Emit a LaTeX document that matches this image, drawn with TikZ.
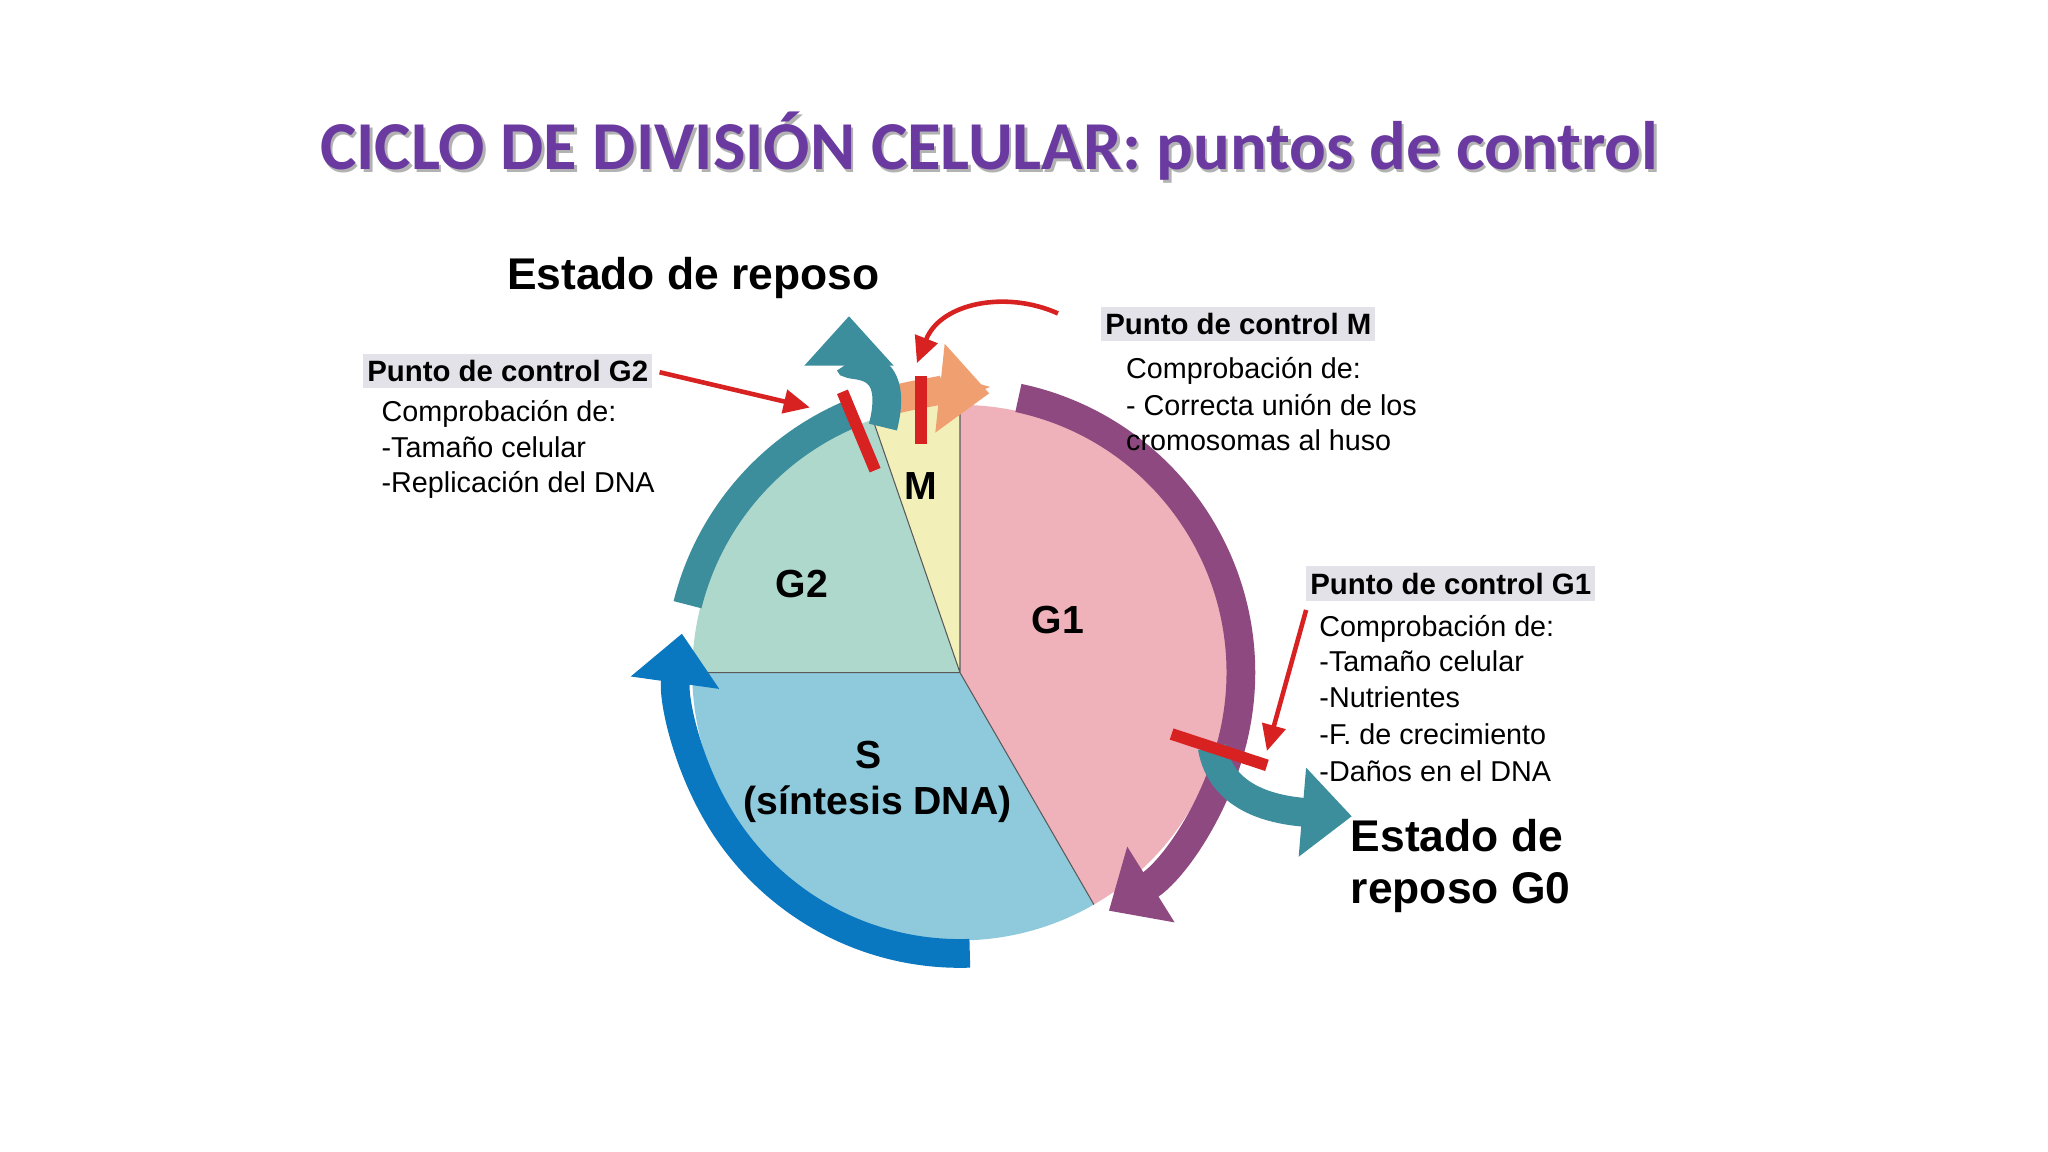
\documentclass[tikz,border=0pt]{standalone}
\usepackage{fontspec}
\setmainfont{Liberation Sans}
\newfontfamily\titlefont{Carlito}
\usetikzlibrary{arrows.meta}
\definecolor{cG1}{HTML}{F0B2BA}
\definecolor{cM}{HTML}{F3EFB8}
\definecolor{cG2}{HTML}{AED8CC}
\definecolor{cS}{HTML}{8ECADC}
\definecolor{cteal}{HTML}{3C8E9C}
\definecolor{cblue}{HTML}{0A78C0}
\definecolor{cpurp}{HTML}{8E4A80}
\definecolor{corange}{HTML}{F0A070}
\definecolor{cred}{HTML}{D82222}
\definecolor{ctitle}{HTML}{6A3AA0}
\definecolor{cbox}{HTML}{E2E2E8}
\tikzset{
 ring/.style={line width=22pt},
 bigtip/.style={-{Triangle[length=38pt,width=66pt]}},
 redbar/.style={cred,line width=9pt},
 redarrow/.style={cred,line width=3.5pt,-{Triangle[length=20pt,width=18pt]}},
 ctrl/.style={fill=cbox,font=\bfseries\fontsize{22.5}{26}\selectfont,inner xsep=3pt,inner ysep=5pt,anchor=base west},
 body/.style={font=\fontsize{22}{26}\selectfont,anchor=base west,inner sep=0pt},
 big/.style={font=\bfseries\fontsize{34}{40}\selectfont,inner sep=0pt},
 phase/.style={font=\bfseries\fontsize{30}{36}\selectfont,inner sep=0pt}
}
\begin{document}
\begin{tikzpicture}[x=1pt,y=1pt]
\useasboundingbox (0,0) rectangle (1568,882);
\fill[white] (0,0) rectangle (1568,882);
% title
\node[anchor=base west,inner sep=0pt,text=gray!60,font=\titlefont\bfseries\fontsize{52.5}{60}\selectfont] at (247,750) {CICLO DE DIVISIÓN CELULAR: puntos de control};
\node[anchor=base west,inner sep=0pt,text=ctitle,font=\titlefont\bfseries\fontsize{52.5}{60}\selectfont] (title) at (245,752) {CICLO DE DIVISIÓN CELULAR: puntos de control};
% pie
\coordinate (c) at (735,367);
\fill[cG1] (c) -- ++(-60:205) arc(-60:90:205) -- cycle;
\fill[cM] (c) -- ++(90:205) arc(90:109:205) -- cycle;
\fill[cG2] (c) -- ++(109:205) arc(109:180:205) -- cycle;
\fill[cS] (c) -- ++(180:205) arc(180:300:205) -- cycle;
\draw[gray!70!black,line width=0.8pt] (c) -- ++(90:205) (c) -- ++(109:205) (c) -- ++(180:205) (c) -- ++(300:205);
% ring
\draw[ring,cteal] (c) ++(166:215) arc(166:112:215);
\draw[ring,cblue,bigtip] (c) ++(272:215) arc(272:172:215);
\draw[ring,cpurp,bigtip] (c) ++(78:215) arc(78:-58:215);
\draw[ring,corange,bigtip] (c) ++(106:215) arc(106:84:215);
% exits
\draw[ring,cteal,bigtip] (676,555) .. controls (690,610) and (650,600) .. (650,640);
\draw[ring,cteal,bigtip] (928,310) .. controls (935,270) and (975,262) .. (1035,257);
% red bars
\draw[redbar] (645,582) -- (670,522);
\draw[redbar] (705,594) -- (705,542);
\draw[redbar] (897,320) -- (970,296);
% labels
\node[ctrl] (pg2) at (278,590) {Punto de control G2};
\node[body] (g2a) at (292,559) {Comprobación de:};
\node[body] (g2b) at (292,532) {-Tamaño celular};
\node[body] (g2c) at (292,505) {-Replicación del DNA};
\node[ctrl] (pm) at (843,626) {Punto de control M};
\node[body] (ma) at (862,592) {Comprobación de:};
\node[body] (mb) at (862,564) {- Correcta unión de los};
\node[body] (mc) at (862,537) {cromosomas al huso};
\node[ctrl] (pg1) at (1000,427) {Punto de control G1};
\node[body] (g1a) at (1010,395) {Comprobación de:};
\node[body] (g1b) at (1010,368) {-Tamaño celular};
\node[body] (g1c) at (1010,340) {-Nutrientes};
\node[body] (g1d) at (1010,312) {-F. de crecimiento};
\node[body] (g1e) at (1010,284) {-Daños en el DNA};
\node[big,anchor=base west] (rep) at (388,660) {Estado de reposo};
\node[big,anchor=base west] (g0a) at (1034,230) {Estado de};
\node[big,anchor=base west] (g0b) at (1034,190) {reposo G0};
\node[phase] (lM) at (705,510) {M};
\node[phase] (lG2) at (614,435) {G2};
\node[phase] (lG1) at (810,407) {G1};
\node[phase] (lS) at (665,304) {S};
\node[phase] (lS2) at (672,266) {(síntesis DNA)};
% red arrows
\coordinate (a1s) at (505,597); \coordinate (a1e) at (620,570);
\draw[redarrow] (a1s) -- (a1e);
\coordinate (a2s) at (810,642); \coordinate (a2e) at (702,604);
\draw[redarrow] (a2s) .. controls (770,660) and (720,650) .. (a2e);
\coordinate (a3s) at (1000,415); \coordinate (a3e) at (970,307);
\draw[redarrow] (a3s) -- (a3e);
\end{tikzpicture}
\end{document}
